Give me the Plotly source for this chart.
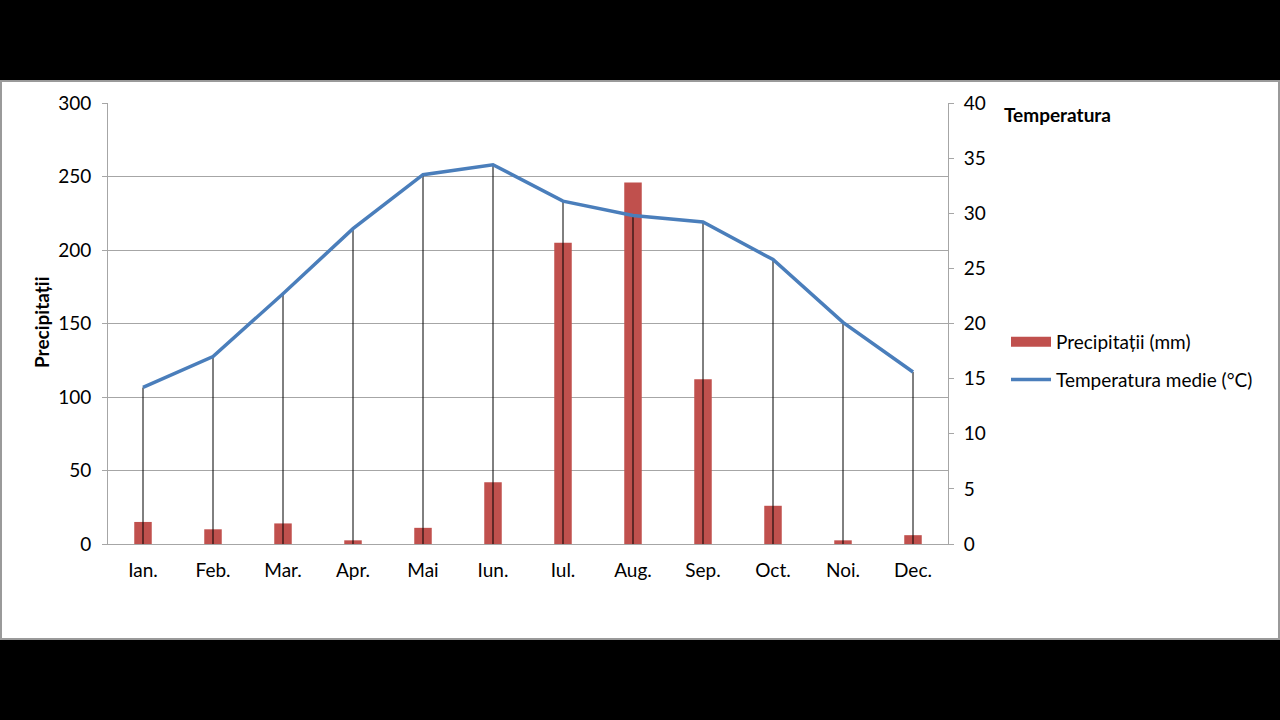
import plotly.graph_objects as go

months = ["Ian.", "Feb.", "Mar.", "Apr.", "Mai", "Iun.", "Iul.", "Aug.", "Sep.", "Oct.", "Noi.", "Dec."]
precip_mm = [15, 10, 14, 2.5, 11, 42, 205, 246, 112, 26, 2.5, 6]
temp_c = [14.2, 17.0, 22.7, 28.6, 33.5, 34.4, 31.1, 29.8, 29.2, 25.8, 20.1, 15.6]
drop_zero = [0] * len(months)

FONT = "Lato"
FS = 19
L, R, T, B = 108, 948, 103, 544
W, H = 1280, 720
pw, ph = R - L, B - T

def px_x(x):
    return (x - L) / pw

def px_y(y):
    return (B - y) / ph

RED = "#c0504d"
BLUE = "#4a7ebb"

fig = go.Figure()
fig.add_trace(go.Bar(
    x=months, y=precip_mm, name="Precipitații (mm)",
    marker=dict(color=RED, line=dict(width=0)),
    width=0.25, yaxis="y", showlegend=False,
))
fig.add_trace(go.Scatter(
    x=months, y=temp_c, name="Temperatura medie (°C)", mode="lines",
    line=dict(color=BLUE, width=3.5), yaxis="y2", showlegend=False,
    error_y=dict(type="data", symmetric=False, array=drop_zero, arrayminus=temp_c,
                 width=0, color="black", thickness=1),
))
# legend entries
fig.add_trace(go.Scatter(
    x=[None], y=[None], name="Precipitații (mm)", mode="lines",
    line=dict(color=RED, width=11), legendgroup="a",
))
fig.add_trace(go.Scatter(
    x=[None], y=[None], name="Temperatura medie (°C)", mode="lines",
    line=dict(color=BLUE, width=3.5), legendgroup="b",
))

fig.update_layout(
    width=W, height=H,
    margin=dict(l=L, r=W - R, t=T, b=H - B, pad=0),
    paper_bgcolor="black", plot_bgcolor="white",
    font=dict(family=FONT, size=FS, color="black"),
    xaxis=dict(range=[-0.5, 11.5], showgrid=False, showline=True, linecolor="#a6a6a6",
               linewidth=1, ticks="", tickfont=dict(size=FS), ticklabelstandoff=9),
    yaxis=dict(range=[0, 300], dtick=50, showgrid=True, gridcolor="#a6a6a6", gridwidth=1,
               showline=True, linecolor="#a6a6a6", ticks="outside", ticklen=5,
               tickcolor="#a6a6a6", zeroline=False, tickfont=dict(size=FS), ticklabelstandoff=7),
    yaxis2=dict(range=[0, 40], dtick=5, overlaying="y", side="right", showgrid=False,
                showline=True, linecolor="#a6a6a6", ticks="outside", ticklen=5,
                tickcolor="#a6a6a6", zeroline=False, tickfont=dict(size=FS), ticklabelstandoff=6),
    legend=dict(x=px_x(1006), y=px_y(323), xanchor="left", yanchor="top",
                bgcolor="rgba(0,0,0,0)", font=dict(size=FS), itemwidth=40,
                tracegroupgap=10),
    showlegend=True,
    shapes=[dict(type="rect", xref="paper", yref="paper", layer="below",
                 x0=px_x(1), x1=px_x(1279), y0=px_y(639), y1=px_y(81),
                 fillcolor="white", line=dict(color="#9a9a9a", width=2))],
    annotations=[
        dict(text="<b>Precipitații</b>", xref="paper", yref="paper", x=px_x(41), y=px_y(323),
             xanchor="center", yanchor="middle",
             textangle=-90, showarrow=False, font=dict(size=FS)),
        dict(text="<b>Temperatura</b>", xref="paper", yref="paper", x=px_x(1002), y=px_y(114),
             xanchor="left", yanchor="middle", showarrow=False, font=dict(size=FS)),
    ],
)

fig.write_html("out.html")
